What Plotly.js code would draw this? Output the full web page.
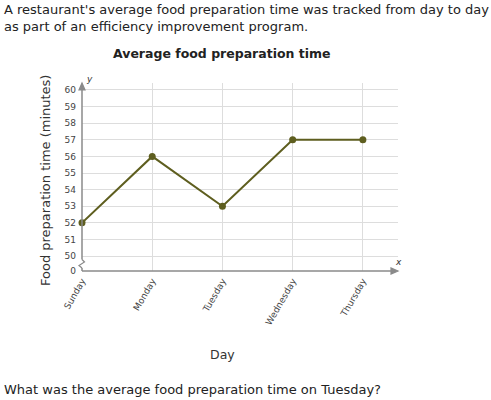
<!DOCTYPE html>
<html>
<head>
<meta charset="utf-8">
<script src="https://cdn.plot.ly/plotly-3.0.1.min.js"></script>
<style>
html,body{margin:0;padding:0;background:#fff;}
#chart{width:491px;height:400px;}
</style>
</head>
<body>
<div id="chart"></div>
<script>
// ---- data ----
var days = ["Sunday", "Monday", "Tuesday", "Wednesday", "Thursday"];
var prepTime = [52, 56, 53, 57, 57];
var yTickValues = [50, 51, 52, 53, 54, 55, 56, 57, 58, 59, 60];
var yTickLabels = ["50", "51", "52", "53", "54", "55", "56", "57", "58", "59", "60"];
var breakValue = 49.1;   // where the broken axis shows "0"
var breakLabel = "0";
var introText = "A restaurant's average food preparation time was tracked from day to day<br>as part of an efficiency improvement program.";
var chartTitle = "<b>Average food preparation time</b>";
var xTitle = "Day";
var yTitle = "Food preparation time (minutes)";
var questionText = "What was the average food preparation time on Tuesday?";

// ---- layout geometry (pixels) ----
var W = 491, H = 400;
var L = 82, R = 398, T = 83, B = 271;
var PW = R - L, PH = B - T;
function px(x) { return (x - L) / PW; }
function py(y) { return (B - y) / PH; }

var xIdx = days.map(function (d, i) { return i; });
var font = "DejaVu Sans, Verdana, sans-serif";
var axisColor = "#8a8a8a";
var lineColor = "#5e5e1f";

var trace = {
  x: xIdx,
  y: prepTime,
  type: "scatter",
  mode: "lines+markers",
  line: { color: lineColor, width: 2 },
  marker: { color: lineColor, size: 7 },
  cliponaxis: false,
  hoverinfo: "skip"
};

function seg(x0, y0, x1, y1) {
  return { type: "line", xref: "paper", yref: "paper",
    x0: px(x0), y0: py(y0), x1: px(x1), y1: py(y1),
    line: { color: axisColor, width: 1.5 }, layer: "above" };
}
function pathPx(pts, fill) {
  var d = pts.map(function (p, i) { return (i ? "L" : "M") + px(p[0]) + "," + py(p[1]); }).join(" ");
  if (fill) d += " Z";
  return { type: "path", xref: "paper", yref: "paper", path: d,
    line: { color: axisColor, width: 1.2 },
    fillcolor: fill ? axisColor : "rgba(0,0,0,0)", layer: "above" };
}

var shapes = [
  seg(L, B, R - 6, B),
  pathPx([[R, B], [R - 7, B - 3], [R - 7, B + 3]], true),
  seg(L, B, L, 268),
  pathPx([[L, 268], [79, 265.5], [84.5, 262], [L, 259.5]], false),
  seg(L, 259.5, L, T + 6),
  pathPx([[L, T], [L - 3, T + 7], [L + 3, T + 7]], true)
];

function ann(text, x, y, opts) {
  var a = { text: text, xref: "paper", yref: "paper", x: px(x), y: py(y),
    showarrow: false, font: { family: font, size: 13, color: "#222" } };
  for (var k in opts) a[k] = opts[k];
  return a;
}

var annotations = [
  ann(introText, 2, 18, { xanchor: "left", yanchor: "middle", align: "left",
      font: { family: font, size: 13, color: "#222" } }),
  ann(chartTitle, 222, 54, { xanchor: "center", yanchor: "middle",
      font: { family: font, size: 12.5, color: "#222" } }),
  ann(xTitle, 222, 354, { xanchor: "center", yanchor: "middle",
      font: { family: font, size: 12.5, color: "#333" } }),
  ann(yTitle, 45, 181, { xanchor: "center", yanchor: "middle", textangle: -90,
      font: { family: font, size: 13, color: "#333" } }),
  ann(questionText, 2, 389, { xanchor: "left", yanchor: "middle",
      font: { family: font, size: 13, color: "#222" } }),
  ann("<i>x</i>", 398, 262, { xanchor: "center", yanchor: "middle",
      font: { family: font, size: 9, color: "#333" } }),
  ann("<i>y</i>", 89, 79, { xanchor: "center", yanchor: "middle",
      font: { family: font, size: 9, color: "#333" } })
];

var layout = {
  width: W, height: H,
  margin: { l: L, r: W - R, t: T, b: H - B, pad: 0 },
  paper_bgcolor: "#fff", plot_bgcolor: "#fff",
  showlegend: false,
  xaxis: {
    range: [0, 4.5],
    tickmode: "array", tickvals: xIdx, ticktext: days,
    tickangle: -60,
    tickfont: { family: font, size: 9, color: "#444" },
    showgrid: true, gridcolor: "#dddddd", gridwidth: 1,
    zeroline: false, showline: false, ticks: "", fixedrange: true,
    ticklabelstandoff: 2
  },
  yaxis: {
    range: [breakValue, 60.42],
    tickmode: "array",
    tickvals: [breakValue].concat(yTickValues),
    ticktext: [breakLabel].concat(yTickLabels),
    tickfont: { family: font, size: 9, color: "#444" },
    showgrid: true, gridcolor: "#dddddd", gridwidth: 1,
    zeroline: false, showline: false, ticks: "", fixedrange: true,
    ticklabelstandoff: 5
  },
  shapes: shapes,
  annotations: annotations
};

Plotly.newPlot("chart", [trace], layout, { displayModeBar: false, staticPlot: true });
</script>
</body>
</html>
